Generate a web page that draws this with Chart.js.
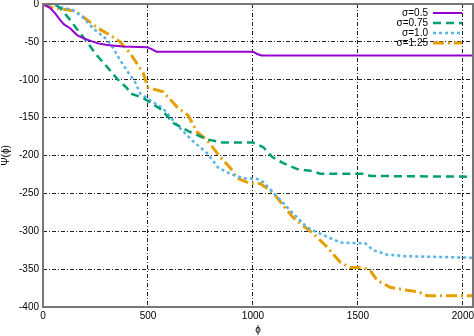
<!DOCTYPE html>
<html>
<head>
<meta charset="utf-8">
<script src="https://cdn.jsdelivr.net/npm/chart.js@4/dist/chart.umd.min.js"></script>
<style>
  html, body { margin: 0; padding: 0; background: #fff; }
  #wrap { width: 474px; height: 336px; }
</style>
</head>
<body>
<div id="wrap"><canvas id="psiChart"></canvas></div>
<script>
// Psi(phi) curves for four sigma values
const sigmaLabels = ["σ=0.5", "σ=0.75", "σ=1.0", "σ=1.25"];

const phi05 = [0, 20, 33, 60, 81, 100, 129, 162, 191, 230, 262, 305, 381, 496, 520, 540, 1000, 1020, 1040, 2048];
const psi05 = [0, -3, -5, -13, -21, -27, -32, -41, -45, -49, -52, -54, -56, -57, -60, -63, -63, -66, -68, -68];

const phi075 = [0, 40, 57, 81, 138, 153, 210, 248, 305, 357, 400, 415, 477, 567, 620, 701, 786, 858, 1001, 1049, 1092, 1144, 1211, 1273, 1320, 1525, 1560, 2048];
const psi075 = [0, 0, -1, -5, -24, -30, -50, -65, -83, -100, -111, -118, -124, -140, -157, -169, -179, -183, -183, -189, -202, -210, -218, -220, -224, -224, -227, -228];

const phi10 = [0, 50, 81, 143, 191, 238, 296, 334, 367, 405, 439, 462, 510, 572, 639, 710, 782, 834, 891, 953, 1020, 1049, 1096, 1144, 1211, 1258, 1320, 1416, 1535, 1573, 1640, 1735, 2048];
const psi10 = [0, 0, -4, -8, -18, -32, -45, -58, -74, -90, -103, -118, -127, -138, -160, -180, -197, -216, -224, -230, -231, -235, -249, -263, -282, -295, -303, -315, -316, -325, -331, -333, -335];

const phi125 = [0, 33, 95, 153, 224, 262, 319, 367, 415, 453, 477, 500, 572, 639, 691, 734, 782, 844, 891, 925, 987, 1034, 1096, 1153, 1192, 1235, 1287, 1354, 1416, 1463, 1525, 1559, 1592, 1654, 1735, 1787, 1830, 2048];
const psi125 = [0, -4, -7, -9, -24, -32, -41, -50, -65, -81, -91, -110, -116, -136, -147, -169, -180, -202, -216, -230, -237, -237, -249, -269, -282, -292, -303, -321, -341, -348, -348, -352, -365, -374, -378, -380, -385, -385];

const xTicks = [0, 500, 1000, 1500, 2000];

function pts(xs, ys) {
  return xs.map((x, i) => ({x: x, y: ys[i]}));
}

// gnuplot-like key: label right-aligned, line sample to its right
const keyPlugin = {
  id: "key",
  afterDatasetsDraw(chart) {
    const ctx = chart.ctx;
    const textRight = 428;
    ctx.save();
    ctx.font = "10px 'Liberation Sans', Arial, sans-serif";
    ctx.textAlign = "right";
    ctx.textBaseline = "middle";
    chart.data.datasets.forEach((ds, i) => {
      const y = 13 + i * 10;
      ctx.fillStyle = "#000";
      ctx.fillText(ds.label, textRight, y);
      ctx.strokeStyle = ds.borderColor;
      ctx.lineWidth = ds.borderWidth;
      ctx.setLineDash(ds.borderDash || []);
      ctx.beginPath();
      ctx.moveTo(textRight + 5, y);
      ctx.lineTo(textRight + 34, y);
      ctx.stroke();
    });
    ctx.restore();
  }
};

// grey frame round the plot
const framePlugin = {
  id: "frame",
  afterDraw(chart) {
    const a = chart.chartArea;
    const ctx = chart.ctx;
    ctx.save();
    ctx.strokeStyle = "#777";
    ctx.lineWidth = 2;
    ctx.strokeRect(a.left, a.top, a.right - a.left, a.bottom - a.top);
    ctx.restore();
  }
};

const tickFont = {family: "'Liberation Sans', Arial, sans-serif", size: 10};
const gridDash = [4, 2, 1, 2];

new Chart(document.getElementById("psiChart"), {
  type: "line",
  data: {
    datasets: [
      {label: sigmaLabels[0], data: pts(phi05, psi05), borderColor: "#9400D3", borderWidth: 2},
      {label: sigmaLabels[1], data: pts(phi075, psi075), borderColor: "#009E73", borderWidth: 2.5, borderDash: [8, 5]},
      {label: sigmaLabels[2], data: pts(phi10, psi10), borderColor: "#56B4E9", borderWidth: 2.5, borderDash: [3, 3]},
      {label: sigmaLabels[3], data: pts(phi125, psi125), borderColor: "#E69F00", borderWidth: 3, borderDash: [11, 4, 2, 4]}
    ]
  },
  options: {
    responsive: true,
    maintainAspectRatio: false,
    animation: false,
    elements: {point: {radius: 0}, line: {tension: 0, fill: false}},
    layout: {padding: {top: 4, right: 1, left: 0, bottom: 0}},
    plugins: {legend: {display: false}, tooltip: {enabled: false}},
    scales: {
      x: {
        type: "linear",
        min: 0,
        max: 2048,
        afterBuildTicks: axis => { axis.ticks = xTicks.map(v => ({value: v})); },
        afterFit: s => { s.height = 29; s.paddingRight = 0; s.paddingLeft = 0; },
        ticks: {color: "#000", font: tickFont, padding: 3, maxRotation: 0, autoSkip: false,
                callback: v => String(v)},
        grid: {color: "#222", lineWidth: 1, drawTicks: false},
        border: {display: false, dash: gridDash},
        title: {display: true, text: "ϕ", color: "#000", font: tickFont, padding: {top: 0, bottom: 0}}
      },
      y: {
        min: -400,
        max: 0,
        afterFit: s => { s.width = 43; s.paddingTop = 0; s.paddingBottom = 0; },
        ticks: {stepSize: 50, color: "#000", font: tickFont, padding: 4, callback: v => String(v)},
        grid: {color: "#222", lineWidth: 1, drawTicks: false},
        border: {display: false, dash: gridDash},
        title: {display: true, text: "Ψ(ϕ)", color: "#000", font: tickFont, padding: {top: 0, bottom: 0}}
      }
    }
  },
  plugins: [framePlugin, keyPlugin]
});
</script>
</body>
</html>
